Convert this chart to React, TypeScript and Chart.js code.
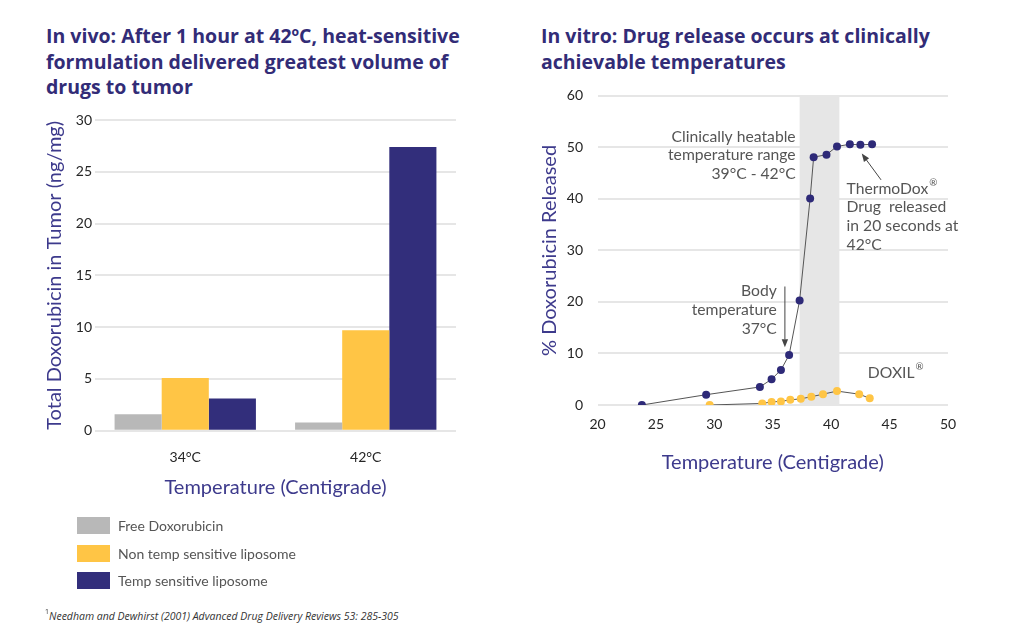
import React, { useEffect, useRef } from 'react';
import { Chart, registerables } from 'chart.js';

Chart.register(...registerables);

// ---- In vivo: doxorubicin delivered to tumor (ng/mg) ----
const tempCategories = ['34°C', '42°C'];
const seriesNames = ['Free Doxorubicin', 'Non temp sensitive liposome', 'Temp sensitive liposome'];
const freeDoxorubicin = [1.6, 0.8];
const nonTempLiposome = [5.1, 9.7];
const tempLiposome = [3.1, 27.4];

// ---- In vitro: % doxorubicin released vs temperature ----
const thermoDoxTemps = [23.8, 29.3, 33.9, 34.9, 35.7, 36.4, 37.3, 38.2, 38.5, 39.6, 40.5, 41.6, 42.5, 43.5];
const thermoDoxRelease = [0, 2.0, 3.5, 5.0, 6.8, 9.7, 20.3, 40.1, 48.1, 48.6, 50.2, 50.6, 50.5, 50.6];
const doxilTemps = [29.6, 34.1, 34.9, 35.7, 36.5, 37.4, 38.3, 39.3, 40.5, 42.4, 43.3];
const doxilRelease = [0, 0.3, 0.6, 0.7, 1.0, 1.2, 1.6, 2.1, 2.7, 2.1, 1.3];
const heatableBand = [37.3, 40.7];

const NAVY = '#322c77';
const AXIS_TITLE = '#3d3a8c';
const GRID = '#e6e6e6';
const TICK = '#262626';
const NOTE = '#555555';
const seriesColors = ['#b8b8b8', '#ffc545', '#322e7b'];

// Callout texts, anchored in data units (temperature, % released)
const notes = [
  { lines: ['Clinically heatable', 'temperature range', '39°C - 42°C'], x: 36.96, y: 52.1, align: 'right' },
  { lines: ['Body', 'temperature', '37°C'], x: 35.35, y: 22.1, align: 'right' },
  { lines: ['ThermoDox®', 'Drug  released', 'in 20 seconds at', '42°C'], x: 41.32, y: 42.0, align: 'left' },
  { lines: ['DOXIL®'], x: 43.14, y: 6.2, align: 'left' },
];
// Arrows: from (x0,y0) to the head at (x1,y1), data units
const arrows = [
  { x0: 36.04, y0: 23.0, x1: 36.04, y1: 11.2 },
  { x0: 44.27, y0: 43.7, x1: 42.62, y1: 48.8 },
];

const NOTE_FONT = 15.7;
const NOTE_LINE = 18.8;

function drawLineWithReg(ctx: CanvasRenderingContext2D, text: string, x: number, y: number, align: string) {
  const parts = text.split('®');
  const base = parts[0];
  const hasReg = text.includes('®');
  ctx.font = `${NOTE_FONT}px Lato`;
  const bw = ctx.measureText(base).width;
  ctx.font = `${NOTE_FONT * 0.62}px Lato`;
  const rw = hasReg ? ctx.measureText('®').width + 1 : 0;
  const total = bw + rw;
  const left = align === 'right' ? x - total : x;
  ctx.textAlign = 'left';
  ctx.font = `${NOTE_FONT}px Lato`;
  ctx.fillText(base, left, y);
  if (hasReg) {
    ctx.font = `${NOTE_FONT * 0.62}px Lato`;
    ctx.fillText('®', left + bw + 1, y - 6);
  }
}

const releaseNotesPlugin = {
  id: 'releaseNotes',
  beforeDatasetsDraw(chart: any) {
    const { ctx, chartArea, scales } = chart;
    const x0 = scales.x.getPixelForValue(heatableBand[0]);
    const x1 = scales.x.getPixelForValue(heatableBand[1]);
    ctx.save();
    ctx.fillStyle = '#e6e6e6';
    ctx.fillRect(x0, chartArea.top, x1 - x0, chartArea.bottom - chartArea.top);
    ctx.restore();
  },
  afterDatasetsDraw(chart: any) {
    const { ctx, scales } = chart;
    ctx.save();
    ctx.fillStyle = NOTE;
    ctx.textBaseline = 'middle';
    for (const n of notes) {
      const px = scales.x.getPixelForValue(n.x);
      const py = scales.y.getPixelForValue(n.y);
      n.lines.forEach((line, i) => drawLineWithReg(ctx, line, px, py + i * NOTE_LINE, n.align));
    }
    ctx.strokeStyle = '#444';
    ctx.fillStyle = '#444';
    ctx.lineWidth = 1;
    for (const a of arrows) {
      const sx = scales.x.getPixelForValue(a.x0);
      const sy = scales.y.getPixelForValue(a.y0);
      const ex = scales.x.getPixelForValue(a.x1);
      const ey = scales.y.getPixelForValue(a.y1);
      const ang = Math.atan2(ey - sy, ex - sx);
      const head = 8;
      const hw = 3.2;
      const bx = ex - head * Math.cos(ang);
      const by = ey - head * Math.sin(ang);
      ctx.beginPath();
      ctx.moveTo(sx, sy);
      ctx.lineTo(bx, by);
      ctx.stroke();
      ctx.beginPath();
      ctx.moveTo(ex, ey);
      ctx.lineTo(bx + hw * Math.sin(ang), by - hw * Math.cos(ang));
      ctx.lineTo(bx - hw * Math.sin(ang), by + hw * Math.cos(ang));
      ctx.closePath();
      ctx.fill();
    }
    ctx.restore();
  },
};

const tickFont = { family: 'Lato', size: 14 };
const titleFont = { family: 'Lato', size: 20 };

export default function App() {
  const barRef = useRef<HTMLCanvasElement>(null);
  const lineRef = useRef<HTMLCanvasElement>(null);

  useEffect(() => {
    const barChart = new Chart(barRef.current as HTMLCanvasElement, {
      type: 'bar',
      data: {
        labels: tempCategories,
        datasets: [freeDoxorubicin, nonTempLiposome, tempLiposome].map((d, i) => ({
          label: seriesNames[i],
          data: d,
          backgroundColor: seriesColors[i],
          borderWidth: 0,
          categoryPercentage: 0.783,
          barPercentage: 1,
        })),
      },
      options: {
        animation: false,
        responsive: false,
        layout: { autoPadding: false, padding: { top: 20, right: 14, left: 0, bottom: 0 } },
        plugins: { legend: { display: false }, tooltip: { enabled: false } },
        scales: {
          x: {
            grid: { display: false },
            border: { display: false },
            ticks: { color: TICK, font: tickFont, padding: 10 },
            title: { display: true, text: 'Temperature (Centigrade)', color: AXIS_TITLE, font: titleFont, padding: { top: 0, bottom: 20 } },
            afterFit: (s: any) => { s.height = 89.3; },
          },
          y: {
            min: 0,
            max: 30,
            ticks: { stepSize: 5, color: TICK, font: tickFont, padding: 3 },
            grid: { color: GRID, lineWidth: 2, drawTicks: false },
            border: { display: false },
            title: { display: true, text: 'Total Doxorubicin in Tumor (ng/mg)', color: AXIS_TITLE, font: titleFont, padding: { top: 43, bottom: 0 } },
            afterFit: (s: any) => { s.width = 95; },
          },
        },
      },
    } as any);

    const lineChart = new Chart(lineRef.current as HTMLCanvasElement, {
      type: 'scatter',
      data: {
        datasets: [
          {
            label: 'DOXIL',
            data: doxilTemps.map((t, i) => ({ x: t, y: doxilRelease[i] })),
            showLine: true,
            borderColor: '#555',
            borderWidth: 1,
            pointBackgroundColor: '#ffc545',
            pointBorderWidth: 0,
            pointRadius: 4,
          },
          {
            label: 'ThermoDox',
            data: thermoDoxTemps.map((t, i) => ({ x: t, y: thermoDoxRelease[i] })),
            showLine: true,
            borderColor: '#555',
            borderWidth: 1,
            pointBackgroundColor: '#2e2a78',
            pointBorderWidth: 0,
            pointRadius: 4,
          },
        ],
      },
      options: {
        animation: false,
        responsive: false,
        layout: { autoPadding: false, padding: { top: 15, right: 62, left: 0, bottom: 0 } },
        plugins: { legend: { display: false }, tooltip: { enabled: false } },
        scales: {
          x: {
            type: 'linear',
            min: 20,
            max: 50,
            ticks: { stepSize: 5, color: TICK, font: tickFont, padding: 3 },
            grid: { display: false },
            border: { display: false },
            title: { display: true, text: 'Temperature (Centigrade)', color: AXIS_TITLE, font: titleFont, padding: { top: 0, bottom: 15 } },
            afterFit: (s: any) => { s.height = 85; },
          },
          y: {
            min: 0,
            max: 60,
            ticks: { stepSize: 10, color: TICK, font: tickFont, padding: 14.5 },
            grid: { color: GRID, lineWidth: 2, drawTicks: false },
            border: { display: false },
            title: { display: true, text: '% Doxorubicin Released', color: AXIS_TITLE, font: titleFont, padding: { top: 18, bottom: 0 } },
            afterFit: (s: any) => { s.width = 77.5; },
          },
        },
      },
      plugins: [releaseNotesPlugin],
    } as any);

    return () => {
      barChart.destroy();
      lineChart.destroy();
    };
  }, []);

  const titleStyle: React.CSSProperties = {
    position: 'absolute',
    top: 23,
    fontFamily: '"Open Sans", sans-serif',
    fontWeight: 700,
    fontSize: 19.5,
    lineHeight: '25.5px',
    color: NAVY,
    whiteSpace: 'nowrap',
    margin: 0,
  };

  return (
    <div style={{ position: 'fixed', left: 0, top: 0, width: 1030, height: 635, background: '#fff', overflow: 'hidden' }}>
      <div style={{ ...titleStyle, left: 46 }}>
        In vivo: After 1 hour at 42ºC, heat-sensitive<br />formulation delivered greatest volume of<br />drugs to tumor
      </div>
      <div style={{ ...titleStyle, left: 541 }}>
        In vitro: Drug release occurs at clinically<br />achievable temperatures
      </div>

      <canvas ref={barRef} width={470} height={420} style={{ position: 'absolute', left: 0, top: 100 }} />
      <canvas ref={lineRef} width={490} height={417} style={{ position: 'absolute', left: 520, top: 73 }} />

      {seriesNames.map((name, i) => (
        <div key={name} style={{ position: 'absolute', left: 77, top: 517 + i * 27.5, height: 17, display: 'flex', alignItems: 'center' }}>
          <div style={{ width: 33, height: 17, background: seriesColors[i] }} />
          <span style={{ marginLeft: 8, fontFamily: 'Lato, sans-serif', fontSize: 14, color: '#555' }}>{name}</span>
        </div>
      ))}

      <div style={{ position: 'absolute', left: 45, top: 609, fontFamily: '"Open Sans", sans-serif', fontStyle: 'italic', fontSize: 10.5, lineHeight: '14px', color: '#333', whiteSpace: 'nowrap' }}>
        <sup style={{ fontSize: 7, fontStyle: 'normal', verticalAlign: 'top', position: 'relative', top: -4 }}>1</sup>
        Needham and Dewhirst (2001) Advanced Drug Delivery Reviews 53: 285-305
      </div>
    </div>
  );
}
